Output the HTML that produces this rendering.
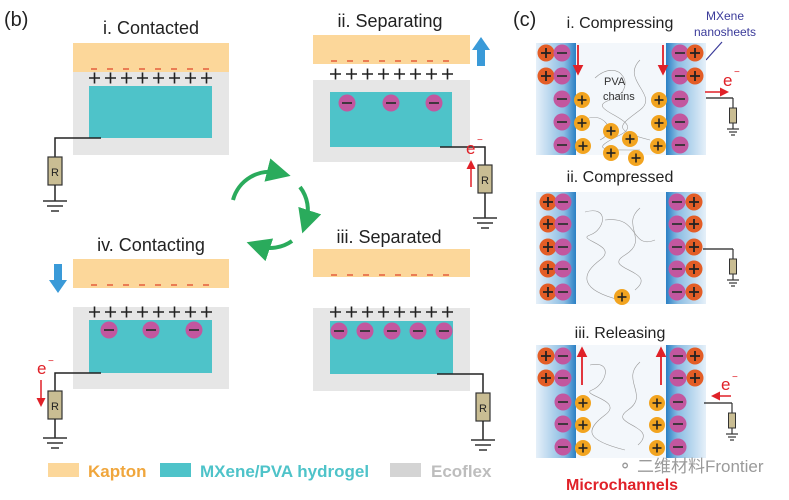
<!DOCTYPE html>
<html><head><meta charset="utf-8"><style>
html,body{margin:0;padding:0;background:#fff;}
svg{display:block;font-family:"Liberation Sans",Arial,sans-serif;}
</style></head><body>
<svg width="789" height="500" viewBox="0 0 789 500" xmlns="http://www.w3.org/2000/svg">
<defs>
<linearGradient id="gl" x1="0" x2="1"><stop offset="0" stop-color="#e6f0f9"/><stop offset="0.7" stop-color="#8bbde3"/><stop offset="1" stop-color="#2a7fc4"/></linearGradient>
<linearGradient id="gr" x1="1" x2="0"><stop offset="0" stop-color="#e6f0f9"/><stop offset="0.7" stop-color="#8bbde3"/><stop offset="1" stop-color="#2a7fc4"/></linearGradient>
<marker id="ga" markerWidth="6" markerHeight="6" refX="3" refY="3" orient="auto" markerUnits="strokeWidth"><path d="M0,0 L6,3 L0,6 Z" fill="#2aab5c"/></marker>
<marker id="ra" markerWidth="6" markerHeight="6" refX="4" refY="3" orient="auto" markerUnits="strokeWidth"><path d="M0,0 L6,3 L0,6 Z" fill="#e02128"/></marker>
<g id="res"><rect x="-7" y="0" width="14" height="28" fill="#c9bd93" stroke="#333" stroke-width="1.2"/><text x="0" y="19" font-size="11" text-anchor="middle" fill="#222">R</text></g>
<g id="gnd"><line x1="-12" y1="0" x2="12" y2="0" stroke="#333" stroke-width="1.5"/><line x1="-8" y1="5" x2="8" y2="5" stroke="#333" stroke-width="1.5"/><line x1="-4" y1="10" x2="4" y2="10" stroke="#333" stroke-width="1.5"/></g>
<g id="pm"><circle r="8.5" fill="#c2579f"/><line x1="-5" y1="0" x2="5" y2="0" stroke="#333" stroke-width="1.8"/></g>
<g id="po"><circle r="8.5" fill="#e35d26"/><line x1="-5" y1="0" x2="5" y2="0" stroke="#222" stroke-width="1.8"/><line x1="0" y1="-5" x2="0" y2="5" stroke="#222" stroke-width="1.8"/></g>
<g id="py"><circle r="8" fill="#f2a420"/><line x1="-4.5" y1="0" x2="4.5" y2="0" stroke="#222" stroke-width="1.6"/><line x1="0" y1="-4.5" x2="0" y2="4.5" stroke="#222" stroke-width="1.6"/></g>
<g id="rg"><line x1="0" y1="-5" x2="0" y2="5" stroke="#333" stroke-width="1.2"/><rect x="-3.5" y="5" width="7" height="15" fill="#c9bd93" stroke="#333" stroke-width="1"/><line x1="0" y1="20" x2="0" y2="26" stroke="#333" stroke-width="1.2"/><line x1="-6" y1="26" x2="6" y2="26" stroke="#333" stroke-width="1.2"/><line x1="-4" y1="29" x2="4" y2="29" stroke="#333" stroke-width="1.2"/><line x1="-2" y1="32" x2="2" y2="32" stroke="#333" stroke-width="1.2"/></g>
<g id="plus"><path d="M0,0h11M5.5,-5.5v11M16,0h11M21.5,-5.5v11M32,0h11M37.5,-5.5v11M48,0h11M53.5,-5.5v11M64,0h11M69.5,-5.5v11M80,0h11M85.5,-5.5v11M96,0h11M101.5,-5.5v11M112,0h11M117.5,-5.5v11" stroke="#222" stroke-width="1.6"/></g>
</defs>

<text x="4" y="26" font-size="20" fill="#222">(b)</text>
<text x="513" y="26" font-size="20" fill="#222">(c)</text>

<!-- Panel i -->
<text x="151" y="34" font-size="18" text-anchor="middle" fill="#222">i. Contacted</text>
<rect x="73" y="43" width="156" height="29" fill="#fcd79a"/>
<rect x="73" y="72" width="156" height="83" fill="#e6e6e6"/>
<rect x="89" y="86" width="123" height="52" fill="#4ec3c9"/>
<g stroke="#e0452a" stroke-width="1.3"><path d="M91,69h6M107,69h6M123,69h6M139,69h6M155,69h6M171,69h6M187,69h6M203,69h6"/></g>
<use href="#plus" x="89" y="78"/>
<path d="M101,138 H55 V157" fill="none" stroke="#222" stroke-width="1.5"/>
<use href="#res" x="55" y="157"/>
<line x1="55" y1="185" x2="55" y2="201" stroke="#222" stroke-width="1.5"/>
<use href="#gnd" x="55" y="201"/>

<!-- Panel ii -->
<text x="390" y="27" font-size="18" text-anchor="middle" fill="#222">ii. Separating</text>
<rect x="313" y="35" width="157" height="29" fill="#fcd79a"/>
<g stroke="#e0452a" stroke-width="1.3"><path d="M331,61h6M347,61h6M363,61h6M379,61h6M395,61h6M411,61h6M427,61h6M443,61h6"/></g>
<path d="M481,37 L490,50 H485 V66 H477 V50 H472 Z" fill="#3a9ad8"/>
<rect x="313" y="80" width="157" height="82" fill="#e6e6e6"/>
<use href="#plus" x="330" y="74"/>
<rect x="330" y="92" width="122" height="55" fill="#4ec3c9"/>
<use href="#pm" x="347" y="103"/><use href="#pm" x="391" y="103"/><use href="#pm" x="434" y="103"/>
<path d="M440,147 H485 V165" fill="none" stroke="#222" stroke-width="1.5"/>
<use href="#res" x="485" y="165"/>
<line x1="485" y1="193" x2="485" y2="218" stroke="#222" stroke-width="1.5"/>
<use href="#gnd" x="485" y="218"/>
<text x="466" y="154" font-size="17" fill="#e02128">e</text><text x="477" y="143" font-size="10" fill="#e02128">−</text>
<line x1="471" y1="187" x2="471" y2="163" stroke="#e02128" stroke-width="1.5" marker-end="url(#ra)"/>

<!-- cycle -->
<g fill="none" stroke="#2aab5c" stroke-width="4">
<path d="M233,200 A38,38 0 0 1 279,173" marker-end="url(#ga)"/>
<path d="M300,187 A38,38 0 0 1 306,222" marker-end="url(#ga)"/>
<path d="M292,241 A38,38 0 0 1 258,246" marker-end="url(#ga)"/>
</g>

<!-- Panel iv -->
<text x="151" y="251" font-size="18" text-anchor="middle" fill="#222">iv. Contacting</text>
<rect x="73" y="259" width="156" height="29" fill="#fcd79a"/>
<g stroke="#e0452a" stroke-width="1.3"><path d="M91,285h6M107,285h6M123,285h6M139,285h6M155,285h6M171,285h6M187,285h6M203,285h6"/></g>
<path d="M58,293 L49,280 H54 V264 H62 V280 H67 Z" fill="#3a9ad8"/>
<rect x="73" y="307" width="156" height="82" fill="#e6e6e6"/>
<use href="#plus" x="89" y="312"/>
<rect x="89" y="320" width="123" height="53" fill="#4ec3c9"/>
<use href="#pm" x="109" y="330"/><use href="#pm" x="151" y="330"/><use href="#pm" x="194" y="330"/>
<path d="M101,373 H55 V391" fill="none" stroke="#222" stroke-width="1.5"/>
<use href="#res" x="55" y="391"/>
<line x1="55" y1="419" x2="55" y2="438" stroke="#222" stroke-width="1.5"/>
<use href="#gnd" x="55" y="438"/>
<text x="37" y="374" font-size="17" fill="#e02128">e</text><text x="48" y="364" font-size="10" fill="#e02128">−</text>
<line x1="41" y1="380" x2="41" y2="404" stroke="#e02128" stroke-width="1.5" marker-end="url(#ra)"/>

<!-- Panel iii -->
<text x="389" y="243" font-size="18" text-anchor="middle" fill="#222">iii. Separated</text>
<rect x="313" y="249" width="157" height="28" fill="#fcd79a"/>
<g stroke="#e0452a" stroke-width="1.3"><path d="M331,275h6M347,275h6M363,275h6M379,275h6M395,275h6M411,275h6M427,275h6M443,275h6"/></g>
<rect x="313" y="308" width="157" height="83" fill="#e6e6e6"/>
<use href="#plus" x="330" y="312"/>
<rect x="330" y="321" width="123" height="53" fill="#4ec3c9"/>
<use href="#pm" x="339" y="331"/><use href="#pm" x="365" y="331"/><use href="#pm" x="392" y="331"/><use href="#pm" x="418" y="331"/><use href="#pm" x="444" y="331"/>
<path d="M437,374 H483 V393" fill="none" stroke="#222" stroke-width="1.5"/>
<use href="#res" x="483" y="393"/>
<line x1="483" y1="421" x2="483" y2="440" stroke="#222" stroke-width="1.5"/>
<use href="#gnd" x="483" y="440"/>

<!-- legend -->
<rect x="48" y="463" width="31" height="14" fill="#fcd79a"/>
<text x="88" y="477" font-size="17" font-weight="bold" fill="#f0a63c">Kapton</text>
<rect x="160" y="463" width="31" height="14" fill="#4ec3c9"/>
<text x="200" y="477" font-size="17" font-weight="bold" fill="#4ec3c9">MXene/PVA hydrogel</text>
<rect x="390" y="463" width="31" height="14" fill="#d4d4d4"/>
<text x="431" y="477" font-size="17" font-weight="bold" fill="#bdbdbd">Ecoflex</text>

<!-- Panel c i -->
<text x="620" y="28" font-size="16" text-anchor="middle" fill="#222">i. Compressing</text>
<text x="725" y="20" font-size="12" text-anchor="middle" fill="#3b3b9a">MXene</text>
<text x="725" y="36" font-size="12" text-anchor="middle" fill="#3b3b9a">nanosheets</text>
<line x1="722" y1="42" x2="706" y2="60" stroke="#3b3b9a" stroke-width="1.2"/>
<rect x="575" y="43" width="92" height="112" fill="#f3f7fb"/>
<rect x="536" y="43" width="40" height="112" fill="url(#gl)"/>
<rect x="666" y="43" width="40" height="112" fill="url(#gr)"/>
<g fill="none" stroke="#9a9a9a" stroke-width="0.6"><path d="M595,78 C620,55 640,90 610,100 S650,120 620,135 S600,150 640,150"/><path d="M640,60 C620,80 660,95 640,110 S610,130 650,140"/><path d="M585,120 C600,110 620,130 600,140"/></g>
<text x="604" y="85" font-size="11" fill="#333">PVA</text>
<text x="603" y="100" font-size="11" fill="#333">chains</text>
<use href="#po" x="546" y="53"/><use href="#pm" x="562" y="53"/><use href="#po" x="546" y="76"/><use href="#pm" x="562" y="76"/>
<use href="#pm" x="562" y="99"/><use href="#pm" x="562" y="122"/><use href="#pm" x="562" y="145"/>
<use href="#py" x="582" y="100"/><use href="#py" x="582" y="123"/><use href="#py" x="583" y="146"/>
<use href="#pm" x="680" y="53"/><use href="#po" x="695" y="53"/><use href="#pm" x="680" y="76"/><use href="#po" x="695" y="76"/>
<use href="#pm" x="680" y="99"/><use href="#pm" x="680" y="122"/><use href="#pm" x="680" y="145"/>
<use href="#py" x="659" y="100"/><use href="#py" x="659" y="123"/><use href="#py" x="658" y="146"/>
<use href="#py" x="611" y="131"/><use href="#py" x="630" y="139"/><use href="#py" x="611" y="153"/><use href="#py" x="636" y="158"/>
<line x1="578" y1="45" x2="578" y2="72" stroke="#e02128" stroke-width="1.8" marker-end="url(#ra)"/>
<line x1="663" y1="45" x2="663" y2="72" stroke="#e02128" stroke-width="1.8" marker-end="url(#ra)"/>
<text x="723" y="86" font-size="17" fill="#e02128">e</text><text x="734" y="75" font-size="10" fill="#e02128">−</text>
<line x1="705" y1="92" x2="726" y2="92" stroke="#e02128" stroke-width="1.5" marker-end="url(#ra)"/>
<path d="M706,98 H733" stroke="#222" stroke-width="1.2"/>
<use href="#rg" x="733" y="103"/>

<!-- Panel c ii -->
<text x="620" y="182" font-size="16" text-anchor="middle" fill="#222">ii. Compressed</text>
<rect x="575" y="192" width="92" height="112" fill="#f3f7fb"/>
<rect x="536" y="192" width="40" height="112" fill="url(#gl)"/>
<rect x="666" y="192" width="40" height="112" fill="url(#gr)"/>
<g fill="none" stroke="#9a9a9a" stroke-width="0.6"><path d="M585,212 C610,205 605,230 590,235 S620,245 600,260 S580,290 620,300"/><path d="M640,208 C620,225 650,240 625,255 S660,270 635,290"/><path d="M605,220 C640,215 630,250 655,240"/></g>
<g>
<use href="#po" x="548" y="202"/><use href="#pm" x="563" y="202"/><use href="#po" x="548" y="224"/><use href="#pm" x="563" y="224"/><use href="#po" x="548" y="247"/><use href="#pm" x="563" y="247"/><use href="#po" x="548" y="269"/><use href="#pm" x="563" y="269"/><use href="#po" x="548" y="292"/><use href="#pm" x="563" y="292"/>
<use href="#pm" x="677" y="202"/><use href="#po" x="694" y="202"/><use href="#pm" x="677" y="224"/><use href="#po" x="694" y="224"/><use href="#pm" x="677" y="247"/><use href="#po" x="694" y="247"/><use href="#pm" x="677" y="269"/><use href="#po" x="694" y="269"/><use href="#pm" x="677" y="292"/><use href="#po" x="694" y="292"/>
</g>
<use href="#py" x="622" y="297"/>
<path d="M703,249 H733" stroke="#222" stroke-width="1.2"/>
<use href="#rg" x="733" y="254"/>

<!-- Panel c iii -->
<text x="620" y="338" font-size="16" text-anchor="middle" fill="#222">iii. Releasing</text>
<rect x="575" y="345" width="92" height="113" fill="#f3f7fb"/>
<rect x="536" y="345" width="40" height="113" fill="url(#gl)"/>
<rect x="666" y="345" width="40" height="113" fill="url(#gr)"/>
<g fill="none" stroke="#9a9a9a" stroke-width="0.6"><path d="M590,365 C615,360 605,385 592,390 S625,400 605,415 S585,440 625,450"/><path d="M640,362 C620,380 650,395 628,410 S660,425 638,445"/></g>
<use href="#po" x="546" y="356"/><use href="#pm" x="563" y="356"/><use href="#po" x="546" y="378"/><use href="#pm" x="563" y="378"/>
<use href="#pm" x="563" y="402"/><use href="#pm" x="563" y="424"/><use href="#pm" x="563" y="447"/>
<use href="#py" x="583" y="403"/><use href="#py" x="583" y="425"/><use href="#py" x="583" y="448"/>
<use href="#pm" x="678" y="356"/><use href="#po" x="695" y="356"/><use href="#pm" x="678" y="378"/><use href="#po" x="695" y="378"/>
<use href="#pm" x="678" y="402"/><use href="#pm" x="678" y="424"/><use href="#pm" x="678" y="447"/>
<use href="#py" x="657" y="403"/><use href="#py" x="657" y="425"/><use href="#py" x="657" y="448"/>
<line x1="582" y1="385" x2="582" y2="350" stroke="#e02128" stroke-width="1.8" marker-end="url(#ra)"/>
<line x1="661" y1="385" x2="661" y2="350" stroke="#e02128" stroke-width="1.8" marker-end="url(#ra)"/>
<text x="721" y="390" font-size="17" fill="#e02128">e</text><text x="732" y="380" font-size="10" fill="#e02128">−</text>
<line x1="731" y1="396" x2="714" y2="396" stroke="#e02128" stroke-width="1.5" marker-end="url(#ra)"/>
<path d="M704,403 H732" stroke="#222" stroke-width="1.2"/>
<use href="#rg" x="732" y="408"/>

<text x="566" y="490" font-size="16" font-weight="bold" fill="#e02128">Microchannels</text>
<text x="618" y="472" font-size="17" fill="#9a9a9a" font-family="'Liberation Sans','Noto Sans CJK SC',sans-serif">⚬ 二维材料Frontier</text>
</svg>
</body></html>
